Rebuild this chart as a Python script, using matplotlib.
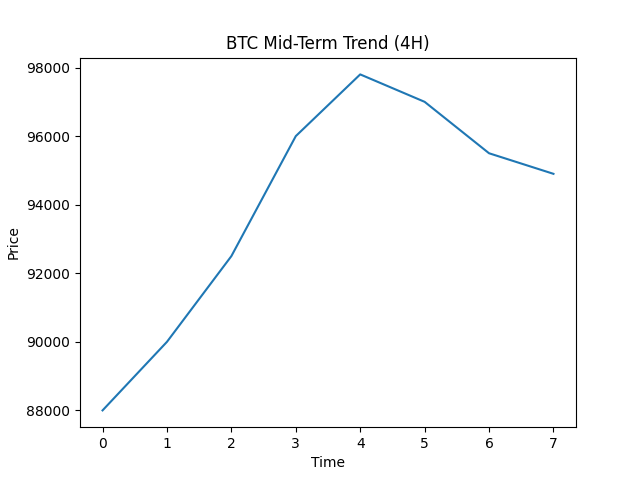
import matplotlib
matplotlib.use("Agg")
import matplotlib.pyplot as plt

time = [0, 1, 2, 3, 4, 5, 6, 7]
price = [88000, 90000, 92500, 96000, 97800, 97000, 95500, 94900]

fig, ax = plt.subplots(figsize=(6.4, 4.8), dpi=100)
ax.plot(time, price)
ax.set_title("BTC Mid-Term Trend (4H)")
ax.set_xlabel("Time")
ax.set_ylabel("Price")
fig.savefig("out.png")
